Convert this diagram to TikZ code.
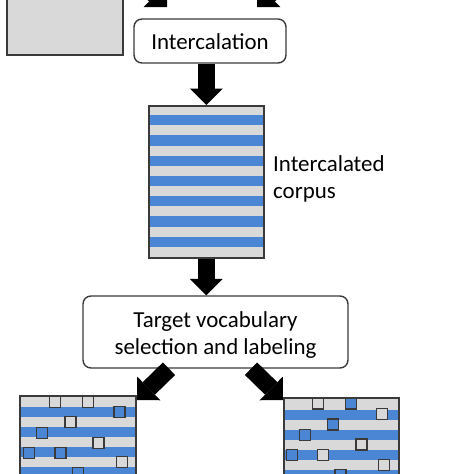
\documentclass[tikz,border=0pt]{standalone}
\usepackage{fontspec}
\setmainfont{Carlito}
\usetikzlibrary{arrows.meta}
\definecolor{sblue}{HTML}{4A86D4}
\definecolor{sgray}{HTML}{D9D9D9}
\definecolor{edge}{HTML}{3A3A3A}
\begin{document}
\begin{tikzpicture}[x=1pt,y=-1pt,
  txt/.style={font=\fontsize{22.9}{27}\selectfont},
  rbox/.style={draw=edge, line width=1.4pt, rounded corners=8pt, fill=white, inner sep=0pt, txt},
  sbox/.style={draw=edge, line width=1.5pt, inner sep=0pt, anchor=north west},
  sq/.style={draw=edge, line width=1.1pt, minimum size=11pt, inner sep=0pt},
  blockarrow/.style={line width=17.5pt, -{Triangle[length=16.5pt,width=33pt,line width=0pt]}}]
\useasboundingbox (0,0) rectangle (474,474);
\clip (0,0) rectangle (474,474);

% top-left box (cut off)
\node[sbox, fill=sgray, minimum width=116pt, minimum height=74pt] (topbox) at (6,-20) {};

% top arrows (sources above picture)
\coordinate (srcL) at (127,-33);
\coordinate (tipTL) at (167,7);
\coordinate (srcR) at (297,-33);
\coordinate (tipTR) at (257,7);
\draw[blockarrow] (srcL) -- (tipTL);
\draw[blockarrow] (srcR) -- (tipTR);

% Intercalation
\node[rbox, minimum width=152pt, minimum height=44pt] (inter) at (210,41) {};
\node[txt, inner sep=0pt] (intertext) at (210,42) {Intercalation};

% intercalated corpus (striped)
\fill[sgray] (148,105) rectangle (263,257);
\foreach \i in {1,3,...,13}
  \fill[sblue] (148,{105+\i*152/15}) rectangle (263,{105+(\i+1)*152/15});
\node[sbox, minimum width=115pt, minimum height=152pt] (ic) at (148,105) {};
\node[txt, anchor=west, align=left, inner sep=0pt] (iclabel) at (273,179) {Intercalated\\corpus};

% Target vocabulary box
\node[rbox, minimum width=265pt, minimum height=72pt] (tv) at (215.5,332) {};
\node[txt, align=center, inner sep=0pt] (tvtext) at (215.5,335) {Target vocabulary\\selection and labeling};

\draw[blockarrow] (inter.south -| ic.north) -- (ic.north);
\draw[blockarrow] (ic.south) -- (ic.south |- tv.north);

% bottom-left labeled corpus
\fill[sgray] (19,395) rectangle (135,480);
\foreach \y in {407,427,447,467}
  \fill[sblue] (19,\y) rectangle (135,\y+10);
\node[sbox, minimum width=116pt, minimum height=90pt] (bl) at (19,395) {};
\node[sq, fill=sgray] (l1) at (55,402) {};
\node[sq, fill=sgray] (l2) at (88,402) {};
\node[sq, fill=sblue] (l3) at (119.5,412) {};
\node[sq, fill=sgray] (l4) at (70.5,422) {};
\node[sq, fill=sblue] (l5) at (42,433) {};
\node[sq, fill=sgray] (l6) at (98.5,443) {};
\node[sq, fill=sblue] (l7) at (29,453) {};
\node[sq, fill=sblue] (l8) at (60.5,453) {};
\node[sq, fill=sgray] (l9) at (122,462) {};
\node[sq, fill=sblue] (l10) at (78,473) {};

% bottom-right labeled corpus
\fill[sgray] (283,397) rectangle (398,480);
\foreach \y in {410,430,450,470}
  \fill[sblue] (283,\y) rectangle (398,\y+10);
\node[sbox, minimum width=115pt, minimum height=90pt] (br) at (283,397) {};
\node[sq, fill=sgray] (r1) at (318,403.5) {};
\node[sq, fill=sblue] (r2) at (351,403.5) {};
\node[sq, fill=sgray] (r3) at (382,414) {};
\node[sq, fill=sblue] (r4) at (333,424.5) {};
\node[sq, fill=sblue] (r5) at (305,435) {};
\node[sq, fill=sgray] (r6) at (361.5,444.5) {};
\node[sq, fill=sblue] (r7) at (292,455) {};
\node[sq, fill=sgray] (r8) at (323,455) {};
\node[sq, fill=sgray] (r9) at (384,465) {};
\node[sq, fill=sblue] (r10) at (340.5,475) {};

% bottom arrows
\coordinate (tipL) at (137,400);
\coordinate (tipR) at (283,400);
\draw[blockarrow] ([xshift=-46.5pt]tv.south) -- (tipL);
\draw[blockarrow] ([xshift=35.5pt]tv.south) -- (tipR);
\end{tikzpicture}
\end{document}
